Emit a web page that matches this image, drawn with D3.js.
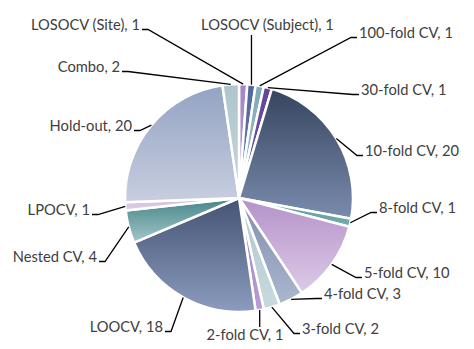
<!DOCTYPE html>
<html><head><meta charset="utf-8">
<script src="https://cdn.jsdelivr.net/npm/d3@7"></script>
<style>body{margin:0;background:#fff}svg{display:block}</style>
</head><body><svg id="c" width="474" height="349"></svg>
<script>
// ---- data ----
const categories = ["LOSOCV (Site)","LOSOCV (Subject)","100-fold CV","30-fold CV","10-fold CV","8-fold CV","5-fold CV","4-fold CV","3-fold CV","2-fold CV","LOOCV","Nested CV","LPOCV","Hold-out","Combo"];
const counts = [1,1,1,1,20,1,10,3,2,1,18,4,1,20,2];

// ---- styles ----
const colorsTop    = ["#a486c6","#52679a","#80abb4","#62449a","#36445e","#5a9699","#b592ca","#7f8daf","#aec7cc","#a384c6","#445373","#478589","#d2bee0","#93a3c3","#aec5cc"];
const colorsBottom = ["#b9a0d4","#6a7fae","#9cc0c6","#7458a8","#7a8cae","#76acae","#dccae6","#acb7ce","#c8dade","#b89cd2","#8c9cbe","#a2c6c8","#dccfe6","#c8cedf","#c6d6da"];

// label layout: offset of text from pie centre, text anchor
const labelLayout = [
  {dx:-99,  dy:-168, a:"end"},
  {dx:28.5, dy:-168, a:"middle"},
  {dx:120,  dy:-160, a:"start"},
  {dx:122,  dy:-103, a:"start"},
  {dx:126,  dy:-42,  a:"start"},
  {dx:140,  dy:15,   a:"start"},
  {dx:125,  dy:80,   a:"start"},
  {dx:85,   dy:101,  a:"start"},
  {dx:63,   dy:136,  a:"start"},
  {dx:6,    dy:142,  a:"middle"},
  {dx:-76,  dy:134,  a:"end"},
  {dx:-142, dy:64,   a:"end"},
  {dx:-149, dy:17,   a:"end"},
  {dx:-107, dy:-67,  a:"end"},
  {dx:-119, dy:-126, a:"end"}
];

const cx = 239, cy = 198, R = 114;
const svg = d3.select("#c");
const defs = svg.append("defs");

categories.forEach((c,i)=>{
  const g = defs.append("linearGradient").attr("id","g"+i)
    .attr("x1",0).attr("y1",0).attr("x2",0).attr("y2",1);
  g.append("stop").attr("offset","0%").attr("stop-color",colorsTop[i]);
  g.append("stop").attr("offset","100%").attr("stop-color",colorsBottom[i]);
});

const data = categories.map((c,i)=>({name:c, value:counts[i], i}));
const pie = d3.pie().value(d=>d.value).sort(null).startAngle(0).endAngle(2*Math.PI);
const arcs = pie(data);
const arc = d3.arc().innerRadius(0).outerRadius(R);

const gPie = svg.append("g").attr("transform",`translate(${cx},${cy})`);
gPie.selectAll("path").data(arcs).join("path")
  .attr("d",arc)
  .attr("fill",d=>`url(#g${d.data.i})`)
  .attr("stroke","#fff").attr("stroke-width",2.5).attr("stroke-linejoin","round");

// font sizing: match reference width of a sample label
const fontFamily = "Lato, 'Open Sans', sans-serif";
const probe = svg.append("text").attr("font-family",fontFamily).attr("font-size",20).text("10-fold CV, 20");
const w20 = probe.node().getComputedTextLength();
probe.remove();
const fs = 20*94/w20;

const gLab = svg.append("g").attr("transform",`translate(${cx},${cy})`);
arcs.forEach((d,k)=>{
  const L = labelLayout[k];
  const mid = (d.startAngle+d.endAngle)/2;
  const px = R*Math.sin(mid), py = -R*Math.cos(mid);
  let pts;
  if (L.a==="start") {
    pts = [[px,py],[L.dx-8,L.dy-0.5],[L.dx-2,L.dy-0.5]];
  } else if (L.a==="end") {
    pts = [[px,py],[L.dx+8,L.dy-0.5],[L.dx+2,L.dy-0.5]];
  } else {
    const ty = L.dy < py ? L.dy+5 : L.dy-13;
    pts = [[px,py],[px,ty]];
  }
  gLab.append("path").attr("d",d3.line()(pts))
    .attr("fill","none").attr("stroke","#000").attr("stroke-width",1.3);
  gLab.append("text")
    .attr("x",L.dx).attr("y",L.dy)
    .attr("text-anchor",L.a)
    .attr("font-family",fontFamily).attr("font-size",fs)
    .attr("fill","#404040")
    .text(`${d.data.name}, ${d.data.value}`);
});
</script>
</body></html>
